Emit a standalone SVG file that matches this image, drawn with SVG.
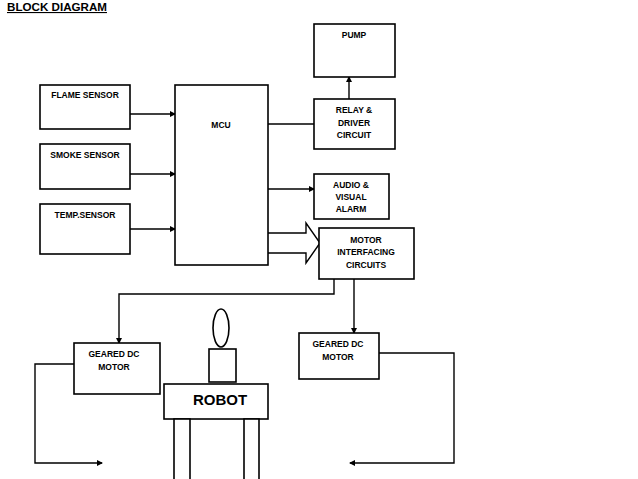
<svg xmlns="http://www.w3.org/2000/svg" width="638" height="479" viewBox="0 0 638 479">
<defs>
<style>
.box{fill:#fff;stroke:#000;stroke-width:1.6}
.ln{fill:none;stroke:#000;stroke-width:1.4}
.t{font-family:"Liberation Sans",Arial,sans-serif;font-size:8.5px;font-weight:bold;text-anchor:middle;fill:#000}
</style>
<marker id="ah" markerWidth="6" markerHeight="6" refX="5" refY="3" orient="auto" markerUnits="userSpaceOnUse">
<path d="M0,0 L6,3 L0,6 Z" fill="#000"/>
</marker>
</defs>
<rect width="638" height="479" fill="#fff"/>
<text x="7" y="11" font-family="Liberation Sans,Arial,sans-serif" font-size="11" font-weight="bold" text-decoration="underline" textLength="100" lengthAdjust="spacingAndGlyphs">BLOCK DIAGRAM</text>

<g id="connectors">
<line class="ln" x1="130" y1="114" x2="175" y2="114" marker-end="url(#ah)"/>
<line class="ln" x1="130" y1="174" x2="175" y2="174" marker-end="url(#ah)"/>
<line class="ln" x1="130" y1="229" x2="175" y2="229" marker-end="url(#ah)"/>
<line class="ln" x1="268" y1="124" x2="314" y2="124"/>
<line class="ln" x1="349" y1="99" x2="349" y2="77" marker-end="url(#ah)"/>
<line class="ln" x1="268" y1="189" x2="314" y2="189" marker-end="url(#ah)"/>
<path class="ln" d="M268,233 L306,233 L306,223 L320,243 L306,263 L306,253 L268,253" style="fill:#fff"/>
<path class="ln" d="M334,279 L334,294 L119,294 L119,343" marker-end="url(#ah)"/>
<line class="ln" x1="354" y1="279" x2="354" y2="333" marker-end="url(#ah)"/>
<path class="ln" d="M74,364 L35,364 L35,463 L102,463" marker-end="url(#ah)"/>
<path class="ln" d="M379,353 L454,353 L454,463 L350,463" marker-end="url(#ah)"/>
</g>

<g id="flame"><rect class="box" x="40" y="85" width="90" height="44"/><text class="t" x="85" y="98">FLAME SENSOR</text></g>
<g id="smoke"><rect class="box" x="40" y="144" width="90" height="45"/><text class="t" x="85" y="158">SMOKE SENSOR</text></g>
<g id="temp"><rect class="box" x="40" y="204" width="90" height="50"/><text class="t" x="85" y="218">TEMP.SENSOR</text></g>
<g id="mcu"><rect class="box" x="175" y="85" width="93" height="180"/><text class="t" x="221" y="128">MCU</text></g>
<g id="pump"><rect class="box" x="314" y="24" width="81" height="53"/><text class="t" x="354" y="38">PUMP</text></g>
<g id="relay"><rect class="box" x="314" y="99" width="81" height="50"/>
<text class="t" x="354" y="113">RELAY &amp;</text><text class="t" x="354" y="126">DRIVER</text><text class="t" x="354" y="138">CIRCUIT</text></g>
<g id="alarm"><rect class="box" x="314" y="174" width="75" height="45"/>
<text class="t" x="351" y="188">AUDIO &amp;</text><text class="t" x="351" y="200">VISUAL</text><text class="t" x="351" y="212">ALARM</text></g>
<g id="motorif"><rect class="box" x="319" y="228" width="95" height="51"/>
<text class="t" x="366" y="243">MOTOR</text><text class="t" x="366" y="255">INTERFACING</text><text class="t" x="366" y="268">CIRCUITS</text></g>
<g id="motorL"><rect class="box" x="74" y="343" width="86" height="51"/>
<text class="t" x="114" y="357">GEARED DC</text><text class="t" x="114" y="370">MOTOR</text></g>
<g id="motorR"><rect class="box" x="299" y="333" width="80" height="46"/>
<text class="t" x="338" y="347">GEARED DC</text><text class="t" x="338" y="360">MOTOR</text></g>
<g id="robot">
<ellipse class="box" cx="221" cy="328" rx="8" ry="19"/>
<rect class="box" x="209" y="349" width="27" height="33"/>
<rect class="box" x="164" y="384" width="104" height="35"/>
<rect class="box" x="174" y="419" width="16" height="62"/>
<rect class="box" x="244" y="419" width="15" height="62"/>
<text x="220" y="405" font-family="Liberation Sans,Arial,sans-serif" font-size="15" font-weight="bold" text-anchor="middle">ROBOT</text>
</g>
</svg>
